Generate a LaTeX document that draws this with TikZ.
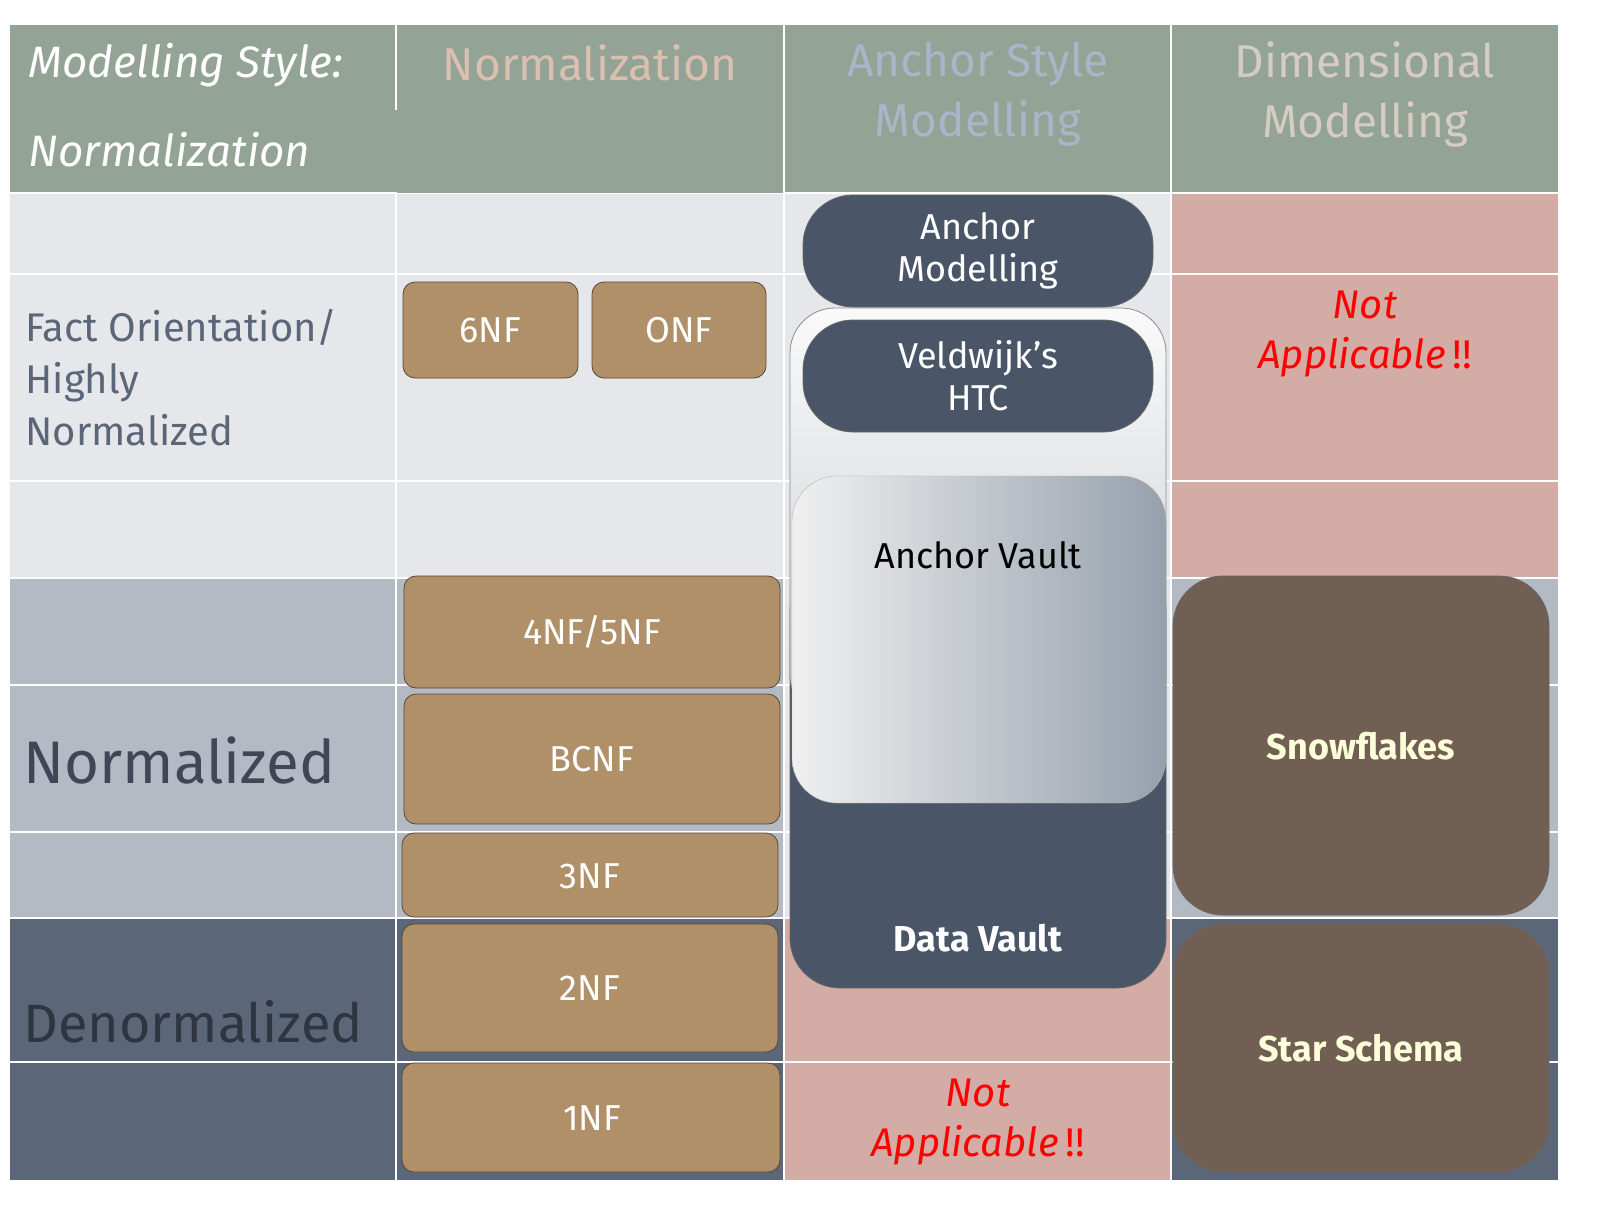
\documentclass[tikz,border=0pt]{standalone}
\usepackage{fontspec}
\setmainfont{Fira Sans}
\definecolor{hdr}{HTML}{93A396}
\definecolor{lgt}{HTML}{E6E7EA}
\definecolor{mid}{HTML}{B3BAC4}
\definecolor{drk}{HTML}{5C6679}
\definecolor{pnk}{HTML}{D4ACA6}
\definecolor{tan}{HTML}{B09068}
\definecolor{slate}{HTML}{4A5668}
\definecolor{brn}{HTML}{725F53}
\tikzset{
 nfbox/.style={fill=tan,draw=black!50!tan,rounded corners=12pt,line width=0.8pt},
 nftext/.style={text=white,font=\fontsize{36}{40}\selectfont},
 pill/.style={fill=slate,draw=black!60,line width=0.8pt,rounded corners=50pt},
 pilltext/.style={text=white,font=\fontsize{36}{42}\selectfont,align=center},
 dimbox/.style={fill=brn,draw=black!60,line width=0.8pt,rounded corners=50pt},
 dimtext/.style={text=green!8!yellow!15!white,font=\bfseries\fontsize{36}{40}\selectfont},
 na/.style={text=red,font=\itshape\fontsize{40}{50}\selectfont,align=center},
 hd/.style={font=\fontsize{46}{60}\selectfont,align=center},
 grid/.style={white,line width=1.5pt}
}
\begin{document}
\begin{tikzpicture}[x=1pt,y=-1pt]
\fill[white] (0,0) rectangle (1600,1215);
\fill[hdr] (10,25) rectangle (1558,193);
\fill[lgt] (10,193) rectangle (1171,578);
\fill[pnk] (1171,193) rectangle (1558,578);
\fill[mid] (10,578) rectangle (784,918);
\fill[drk] (10,918) rectangle (784,1180);
\fill[pnk] (784,918) rectangle (1171,1180);
\fill[mid] (1171,578) rectangle (1558,918);
\fill[drk] (1171,918) rectangle (1558,1180);
\fill[lgt] (784,578) rectangle (1171,918);
\foreach \y in {193,274,481,578,685,832,918,1062}
  \draw[grid] (10,\y) -- (1558,\y);
\draw[grid] (396,25) -- (396,110);
\draw[grid] (396,193) -- (396,1180);
\draw[grid] (784,25) -- (784,1180);
\draw[grid] (1171,25) -- (1171,1180);
\fill[hdr] (396.8,110) rectangle (783.2,193);
\node[text=white,font=\itshape\fontsize{44}{50}\selectfont,anchor=west] (h0a) at (25,65) {Modelling Style:};
\node[text=white,font=\itshape\fontsize{44}{50}\selectfont,anchor=west] (h0b) at (25,150) {Normalization};
\node[hd,text={rgb,255:red,217;green,192;blue,176}] (h1) at (590,63) {Normalization};
\node[hd,text={rgb,255:red,169;green,182;blue,200}] (h2) at (978,94) {Anchor Style\\Modelling};
\node[hd,text={rgb,255:red,213;green,204;blue,196}] (h3) at (1365,94) {Dimensional\\Modelling};
\node[anchor=west,align=left,text=drk,font=\fontsize{40}{52}\selectfont] (l1) at (22,378) {Fact Orientation/\\Highly\\Normalized};
\node[anchor=west,text={rgb,255:red,63;green,71;blue,86},font=\fontsize{60}{62}\selectfont] (l2) at (20,760) {Normalized};
\node[anchor=west,text={rgb,255:red,46;green,52;blue,64},font=\fontsize{54}{60}\selectfont] (l3) at (20,1022) {Denormalized};
\draw[nfbox] (403,282) rectangle (578,378); \node[nftext] (n6) at (490,330) {6NF};
\draw[nfbox] (592,282) rectangle (766,378); \node[nftext] (no) at (679,330) {ONF};
\draw[nfbox] (404,576) rectangle (780,688); \node[nftext] (n45) at (592,632) {4NF/5NF};
\draw[nfbox] (404,694) rectangle (780,824); \node[nftext] (nb) at (592,759) {BCNF};
\draw[nfbox] (402,833) rectangle (778,917); \node[nftext] (n3) at (590,876) {3NF};
\draw[nfbox] (402,924) rectangle (778,1052); \node[nftext] (n2) at (590,988) {2NF};
\draw[nfbox] (402,1063) rectangle (780,1172); \node[nftext] (n1) at (592,1118) {1NF};
\draw[pill] (790,560) rectangle (1166,988);
\node[pilltext,font=\bfseries\fontsize{36}{42}\selectfont] (dv) at (978,938) {Data Vault};
\shade[top color=white!96!gray,bottom color={rgb,255:red,200;green,204;blue,210},draw=black!45,line width=0.8pt,rounded corners=45pt] (790,308) rectangle (1166,720);
\shade[left color=white!88!gray,right color={rgb,255:red,150;green,160;blue,172},rounded corners=45pt,draw=black!30] (792,476) rectangle (1166,803);
\node[font=\fontsize{36}{42}\selectfont] (av) at (978,555) {Anchor Vault};
\draw[pill] (803,195) rectangle (1153,307);
\node[pilltext] (am) at (978,251) {Anchor\\Modelling};
\draw[pill] (803,320) rectangle (1153,432);
\node[pilltext] (vh) at (978,376) {Veldwijk’s\\HTC};
\node[na] (na1) at (978,1122) {Not\\Applicable\,{\upshape !!}};
\node[na] (na2) at (1365,334) {Not\\Applicable\,{\upshape !!}};
\draw[dimbox] (1173,576) rectangle (1549,915); \node[dimtext] (sf) at (1361,746) {Snowflakes};
\draw[dimbox] (1173,924) rectangle (1549,1172); \node[dimtext] (ss) at (1361,1048) {Star Schema};
\pgfresetboundingbox
\path[use as bounding box] (0,0) rectangle (1600,1215);
\end{tikzpicture}
\end{document}
